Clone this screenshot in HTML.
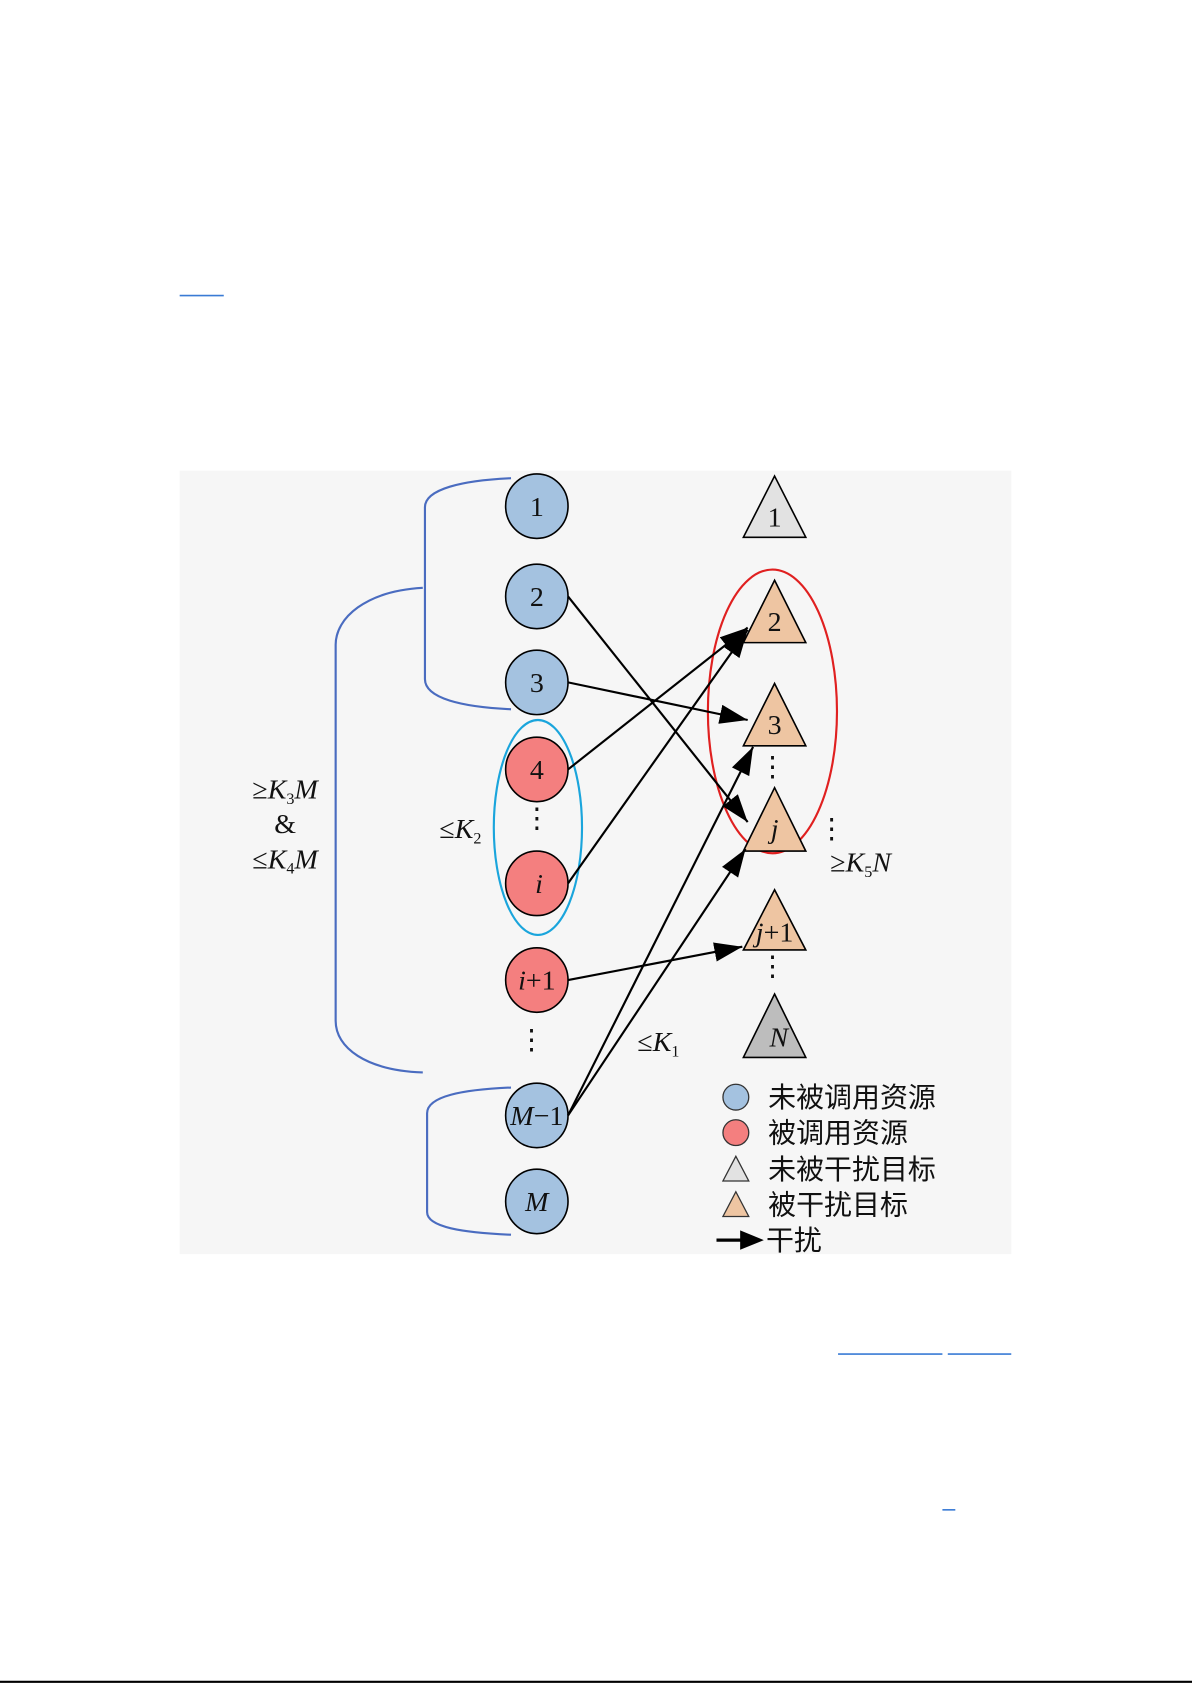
<!DOCTYPE html>
<html><head><meta charset="utf-8"><style>
html,body{margin:0;padding:0;background:#fff;width:1192px;height:1685px;overflow:hidden}
svg{display:block}
text{font-family:"Liberation Serif","Noto Serif CJK SC",serif;fill:#111}
.cj{font-family:"Liberation Sans","Noto Sans CJK SC",sans-serif}
</style></head><body>
<svg width="1192" height="1685" viewBox="0 0 1108 1568" preserveAspectRatio="none" xmlns="http://www.w3.org/2000/svg">
<defs>
<marker id="a" viewBox="0 0 10 10" refX="10" refY="5" markerWidth="26" markerHeight="18" orient="auto" markerUnits="userSpaceOnUse" preserveAspectRatio="none"><path d="M0,0 L10,5 L0,10z" fill="#000"/></marker></defs>
<line x1="167" y1="275" x2="208" y2="275" stroke="#3a7bd5" stroke-width="1.5"/>
<line x1="779" y1="1260" x2="876" y2="1260" stroke="#3a7bd5" stroke-width="1.5"/>
<line x1="881" y1="1260" x2="940" y2="1260" stroke="#3a7bd5" stroke-width="1.5"/>
<line x1="876" y1="1405" x2="888" y2="1405" stroke="#3a7bd5" stroke-width="1.5"/>
<line x1="0" y1="1565" x2="1108" y2="1565" stroke="#000" stroke-width="2"/>
<rect x="167" y="438" width="773" height="729" fill="#f6f6f6"/>
<g fill="none" stroke="#4a6cc0" stroke-width="2">
<path d="M475,445 C430,447 395,455 395,472 L395,632 C395,650 430,658 475,660"/>
<path d="M393,547 C340,550 312,575 312,600 L312,950 C312,975 340,996 393,998"/>
<path d="M475,1012 C430,1014 397,1020 397,1036 L397,1128 C397,1142 430,1147 475,1149"/>
</g>
<ellipse cx="718" cy="662" rx="60" ry="132" fill="none" stroke="#e02020" stroke-width="2"/>
<ellipse cx="500" cy="770" rx="41" ry="100" fill="none" stroke="#1aa5dc" stroke-width="2"/>
<g stroke="#000" stroke-width="1.5">
<ellipse cx="499" cy="471" rx="29" ry="30" fill="#a4c2e0"/>
<ellipse cx="499" cy="555" rx="29" ry="30" fill="#a4c2e0"/>
<ellipse cx="499" cy="635" rx="29" ry="30" fill="#a4c2e0"/>
<ellipse cx="499" cy="716" rx="29" ry="30" fill="#f47f7f"/>
<ellipse cx="499" cy="822" rx="29" ry="30" fill="#f47f7f"/>
<ellipse cx="499" cy="912" rx="29" ry="30" fill="#f47f7f"/>
<ellipse cx="499" cy="1038" rx="29" ry="30" fill="#a4c2e0"/>
<ellipse cx="499" cy="1118" rx="29" ry="30" fill="#a4c2e0"/>
<path d="M720,443 L749,500 L691,500z" fill="#e2e2e2"/>
<path d="M720,540 L749,598 L691,598z" fill="#eec5a2"/>
<path d="M720,636 L749,694 L691,694z" fill="#eec5a2"/>
<path d="M720,733 L749,792 L691,792z" fill="#eec5a2"/>
<path d="M720,828 L749,884 L691,884z" fill="#eec5a2"/>
<path d="M720,925 L749,984 L691,984z" fill="#bdbdbd"/>
</g>
<g stroke="#000" stroke-width="2" fill="none" marker-end="url(#a)">
<line x1="528" y1="555" x2="695" y2="765"/>
<line x1="528" y1="635" x2="695" y2="670"/>
<line x1="528" y1="716" x2="695" y2="584"/>
<line x1="528" y1="822" x2="695" y2="586"/>
<line x1="528" y1="912" x2="690" y2="881"/>
<line x1="528" y1="1038" x2="700" y2="695"/>
<line x1="528" y1="1038" x2="693" y2="790"/>
</g>
<g font-size="26" text-anchor="middle">
<text x="499" y="480">1</text><text x="499" y="564">2</text><text x="499" y="644">3</text>
<text x="499" y="725">4</text><text x="501" y="831" font-style="italic">i</text>
<text x="499" y="921"><tspan font-style="italic">i</tspan>+1</text>
<text x="499" y="1047"><tspan font-style="italic">M</tspan>−1</text>
<text x="499" y="1127" font-style="italic">M</text>
<text x="720" y="490">1</text><text x="720" y="587">2</text><text x="720" y="683">3</text>
<text x="720" y="780" font-style="italic">j</text>
<text x="720" y="876"><tspan font-style="italic">j</tspan>+1</text>
<text x="724" y="974" font-style="italic">N</text>
<text x="265" y="743">≥<tspan font-style="italic">K</tspan><tspan font-size="15" dy="5">3</tspan><tspan dy="-5" font-style="italic">M</tspan></text>
<text x="265" y="775">&amp;</text>
<text x="265" y="808">≤<tspan font-style="italic">K</tspan><tspan font-size="15" dy="5">4</tspan><tspan dy="-5" font-style="italic">M</tspan></text>
<text x="428" y="780">≤<tspan font-style="italic">K</tspan><tspan font-size="15" dy="5">2</tspan></text>
<text x="800" y="811">≥<tspan font-style="italic">K</tspan><tspan font-size="15" dy="5">5</tspan><tspan dy="-5" font-style="italic">N</tspan></text>
<text x="612" y="978">≤<tspan font-style="italic">K</tspan><tspan font-size="15" dy="5">1</tspan></text>
<text x="499" y="770">⋮</text><text x="494" y="976">⋮</text><text x="718" y="722">⋮</text><text x="718" y="908">⋮</text><text x="773" y="780">⋮</text>
</g>
<g stroke="#333" stroke-width="1.2">
<circle cx="684" cy="1021" r="12" fill="#a4c2e0"/>
<circle cx="684" cy="1054" r="12" fill="#f47f7f"/>
<path d="M684,1076 L696,1099 L672,1099z" fill="#e2e2e2"/>
<path d="M684,1109 L696,1132 L672,1132z" fill="#eec5a2"/>
</g>
<line x1="666" y1="1154" x2="690" y2="1154" stroke="#000" stroke-width="3"/>
<path d="M688,1145 L710,1154 L688,1163z" fill="#000"/>
<g font-size="26">
<text x="714" y="1030" class="cj">未被调用资源</text>
<text x="714" y="1063" class="cj">被调用资源</text>
<text x="714" y="1097" class="cj">未被干扰目标</text>
<text x="714" y="1130" class="cj">被干扰目标</text>
<text x="712" y="1163" class="cj">干扰</text>
</g>
</svg>
</body></html>
